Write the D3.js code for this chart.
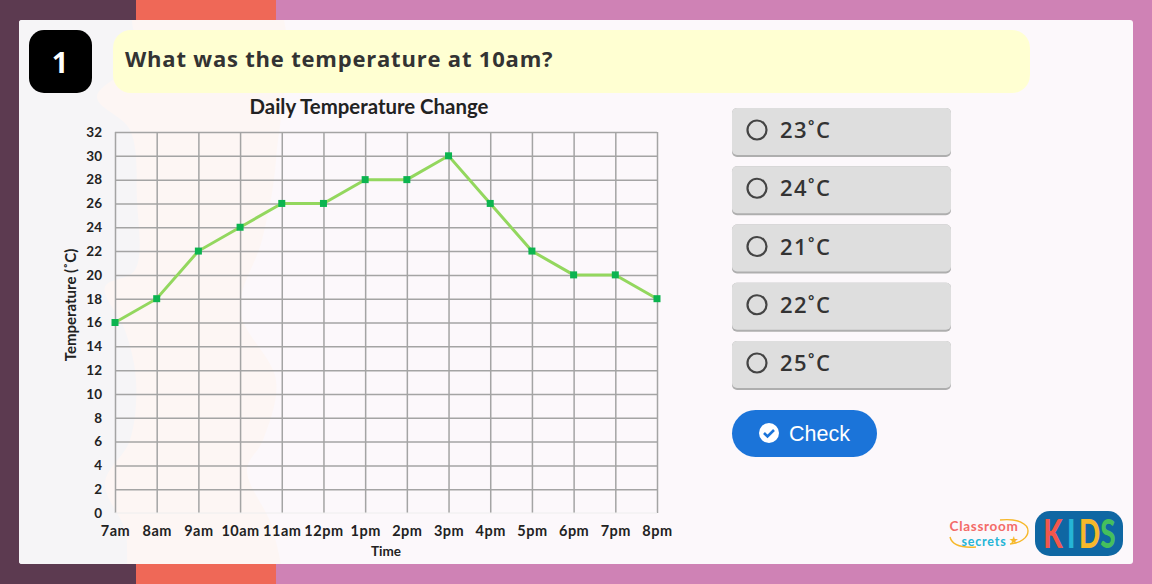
<!DOCTYPE html>
<html>
<head>
<meta charset="utf-8">
<script src="https://cdn.jsdelivr.net/npm/d3@7"></script>
<style>
  html, body { margin: 0; padding: 0; background: #cf82b5; }
  svg { display: block; }
  .axis text { font-family: Lato, sans-serif; font-weight: 700; font-size: 13.5px; fill: #222; }
  .axis.x text { font-size: 14.5px; letter-spacing: 0.5px; }
  .axis path { display: none; }
  .axis line { stroke: #a4a4a4; stroke-width: 1.5; }
</style>
</head>
<body>
<svg width="1152" height="584"></svg>
<script>
const times = ["7am", "8am", "9am", "10am", "11am", "12pm", "1pm", "2pm", "3pm", "4pm", "5pm", "6pm", "7pm", "8pm"];
const temperatures = [16, 18, 22, 24, 26, 26, 28, 28, 30, 26, 22, 20, 20, 18];
const tempTicks = d3.range(0, 33, 2);
const answers = ["23˚C", "24˚C", "21˚C", "22˚C", "25˚C"];
const kidsLetters = ["K", "I", "D", "S"];
const kidsColors = ["#f2574c", "#25b5d6", "#f6b82a", "#45bf5d"];

const svg = d3.select("svg");

// Background stripes
svg.append("rect").attr("width", 1152).attr("height", 584).attr("fill", "#cf82b5");
svg.append("rect").attr("width", 136).attr("height", 584).attr("fill", "#5c3a50");
svg.append("rect").attr("x", 136).attr("width", 140).attr("height", 584).attr("fill", "#ef6857");

// Card
svg.append("clipPath").attr("id", "card-clip").append("rect")
  .attr("x", 19).attr("y", 20).attr("width", 1114).attr("height", 544).attr("rx", 3);
const card = svg.append("g").attr("clip-path", "url(#card-clip)");
card.append("rect").attr("x", 19).attr("y", 20).attr("width", 1114).attr("height", 544).attr("fill", "#fcf8fb");
card.append("rect").attr("x", 19).attr("y", 20).attr("width", 130).attr("height", 544).attr("fill", "#f6f5f7");

// Faint wavy coral tint behind the chart
const wave = d3.line().curve(d3.curveCatmullRomClosed);
card.append("path").attr("fill", "#fdf6f4").attr("d", wave([
  [136, 0], [134, 60], [97, 97], [130, 130], [137, 200], [135, 270], [105, 287], [125, 330],
  [136, 380], [130, 440], [105, 483], [125, 530], [136, 590],
  [276, 590], [273, 530], [247, 470], [263, 440], [276, 380], [240, 310], [262, 240], [276, 160], [274, 0],
]));

// Question number and text
svg.append("rect").attr("x", 29).attr("y", 30).attr("width", 63).attr("height", 63).attr("rx", 15).attr("fill", "#000");
svg.append("text").attr("x", 60).attr("y", 73).attr("text-anchor", "middle")
  .attr("font-family", "Open Sans").attr("font-weight", 700).attr("font-size", 29).attr("fill", "#fff").text("1");
svg.append("rect").attr("x", 113).attr("y", 30).attr("width", 917).attr("height", 63).attr("rx", 18).attr("fill", "#ffffd2");
svg.append("text").attr("x", 125).attr("y", 67)
  .attr("font-family", "Open Sans").attr("font-weight", 700).attr("font-size", 22)
  .attr("letter-spacing", 0.8).attr("fill", "#333").text("What was the temperature at 10am?");

// Chart
const x = d3.scalePoint().domain(times).range([115, 657]);
const y = d3.scaleLinear().domain([0, 32]).range([513, 132]);

svg.append("g").attr("class", "axis").attr("transform", "translate(115,0)")
  .call(d3.axisLeft(y).tickValues(tempTicks).tickSize(0).tickPadding(13));

svg.append("g").attr("class", "axis").attr("transform", "translate(115,0)")
  .call(d3.axisLeft(y).tickValues(tempTicks.filter((d) => d > 0)).tickSize(-542).tickFormat(""));
svg.append("g").attr("class", "axis x").attr("transform", "translate(0,513)")
  .call(d3.axisBottom(x).tickSize(-381).tickPadding(13));

svg.append("line").attr("x1", 115).attr("x2", 657).attr("y1", y(0)).attr("y2", y(0))
  .attr("stroke", "#eeeeee").attr("stroke-width", 1);

const line = d3.line().x((d, i) => x(times[i])).y((d) => y(d));
svg.append("path").datum(temperatures).attr("d", line)
  .attr("fill", "none").attr("stroke", "#93d75e").attr("stroke-width", 3);
svg.append("g").selectAll("rect").data(temperatures).join("rect")
  .attr("x", (d, i) => x(times[i]) - 3.5).attr("y", (d) => y(d) - 3.5)
  .attr("width", 7).attr("height", 7).attr("fill", "#0cb450");

svg.append("text").attr("x", 369).attr("y", 114).attr("text-anchor", "middle")
  .attr("font-family", "Lato").attr("font-weight", 700).attr("font-size", 20.4).attr("fill", "#222")
  .text("Daily Temperature Change");
svg.append("text").attr("x", 386).attr("y", 556).attr("text-anchor", "middle")
  .attr("font-family", "Lato").attr("font-weight", 700).attr("font-size", 13.5).attr("fill", "#222").text("Time");
svg.append("text").attr("transform", "translate(76,305) rotate(-90)").attr("text-anchor", "middle")
  .attr("font-family", "Lato").attr("font-weight", 700).attr("font-size", 15).attr("fill", "#222").text("Temperature (˚C)");

// Answer options
const optionY = d3.scalePoint().domain(answers).range([108, 341]);
const option = svg.append("g").selectAll("g").data(answers).join("g")
  .attr("transform", (d) => `translate(732,${optionY(d)})`);
option.append("rect").attr("width", 219).attr("height", 49).attr("rx", 5).attr("fill", "#aeaeae");
option.append("rect").attr("width", 219).attr("height", 47).attr("rx", 5).attr("fill", "#dedede");
option.append("circle").attr("cx", 25).attr("cy", 22).attr("r", 9.5)
  .attr("fill", "none").attr("stroke", "#444").attr("stroke-width", 2.2);
option.append("text").attr("x", 48).attr("y", 30)
  .attr("font-family", "Open Sans").attr("font-weight", 600).attr("font-size", 22)
  .attr("letter-spacing", 1.3).attr("fill", "#333")
  .text((d) => d);

// Check button
svg.append("rect").attr("x", 732).attr("y", 410).attr("width", 145).attr("height", 47).attr("rx", 23.5).attr("fill", "#1b74d9");
svg.append("circle").attr("cx", 769).attr("cy", 433).attr("r", 10).attr("fill", "#fff");
svg.append("path").attr("d", "M764 433l3.5 3.5 6.5-6.5").attr("fill", "none").attr("stroke", "#1b74d9").attr("stroke-width", 2.6);
svg.append("text").attr("x", 789).attr("y", 441)
  .attr("font-family", "Liberation Sans").attr("font-size", 21.5).attr("fill", "#fff").text("Check");

// Logos
svg.append("path").attr("d", "M1000 520c18 -2 28 4 28 11c0 7 -8 12 -18 13").attr("fill", "none").attr("stroke", "#f6b82a").attr("stroke-width", 1.4);
svg.append("path").attr("d", "M950 537c2 8 12 11 26 10").attr("fill", "none").attr("stroke", "#f6b82a").attr("stroke-width", 1.4);
svg.append("text").attr("x", 984).attr("y", 531).attr("text-anchor", "middle")
  .attr("font-family", "Lato").attr("font-weight", 700).attr("font-size", 13.5).attr("letter-spacing", 0.7)
  .attr("fill", "#f36b68").text("Classroom");
svg.append("text").attr("x", 984).attr("y", 545.5).attr("text-anchor", "middle")
  .attr("font-family", "Lato").attr("font-weight", 700).attr("font-size", 12.5).attr("letter-spacing", 0.8)
  .attr("fill", "#25b5d6").text("secrets");
svg.append("text").attr("x", 1014).attr("y", 544).attr("text-anchor", "middle")
  .attr("font-family", "DejaVu Sans").attr("font-size", 11).attr("fill", "#f6b82a").text("★");

svg.append("rect").attr("x", 1035).attr("y", 511).attr("width", 88).attr("height", 45).attr("rx", 15).attr("fill", "#0f67a3");
const kidsX = d3.scalePoint().domain(kidsLetters).range([1053, 1108]);
svg.append("g").selectAll("text").data(kidsLetters).join("text")
  .attr("transform", (d) => `translate(${kidsX(d)},548) scale(0.9,1.3)`).attr("text-anchor", "middle")
  .attr("font-family", "Lato").attr("font-weight", 900).attr("font-size", 31)
  .attr("fill", (d, i) => kidsColors[i]).text((d) => d);
</script>
</body>
</html>
